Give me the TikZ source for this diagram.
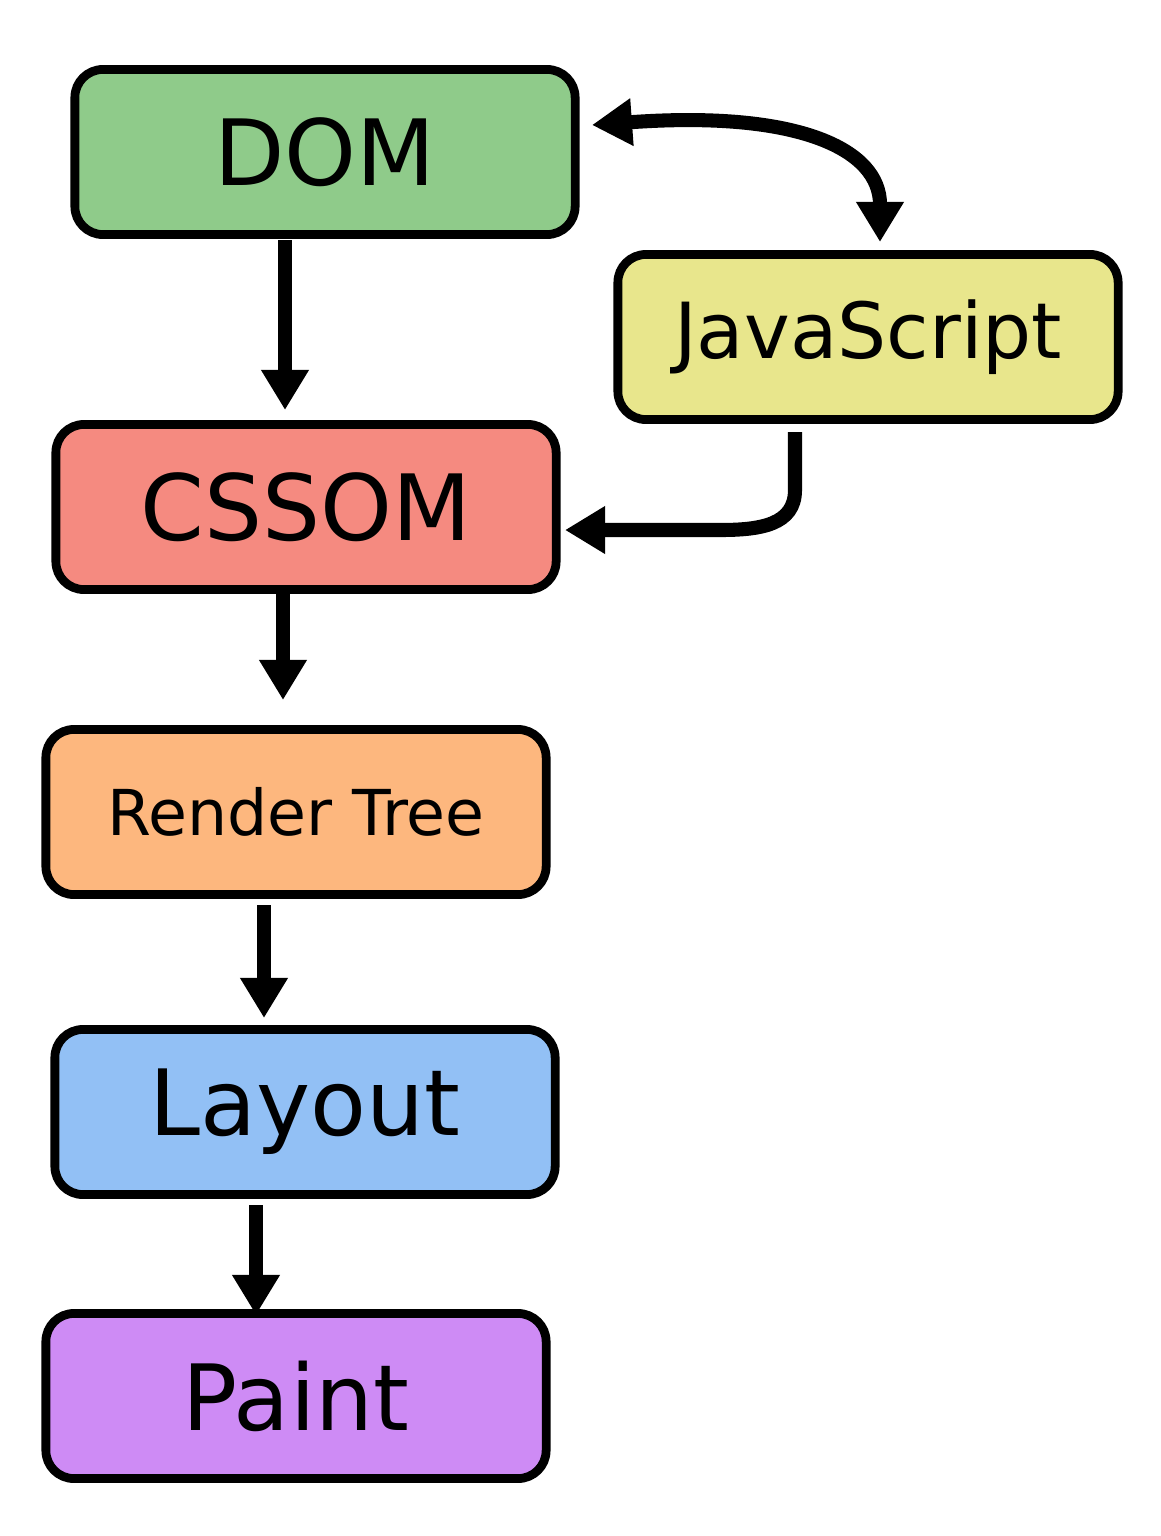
\documentclass[tikz,border=0pt]{standalone}
\usepackage{fontspec}
\setmainfont{DejaVu Sans}
\usetikzlibrary{arrows.meta}
\definecolor{cdom}{HTML}{8FCB8A}
\definecolor{cjs}{HTML}{E8E68C}
\definecolor{ccss}{HTML}{F58A80}
\definecolor{crt}{HTML}{FDB77E}
\definecolor{clay}{HTML}{92C0F5}
\definecolor{cpaint}{HTML}{CE8BF5}
\tikzset{
  box/.style={draw=black, line width=2.5pt, rounded corners=8pt, minimum width=5cm, minimum height=1.65cm, font=\fontsize{26}{30}\selectfont},
  arr/.style={line width=4pt, -{Triangle[length=0.4cm,width=0.45cm]}},
}
\begin{document}
\begin{tikzpicture}[x=0.01cm,y=-0.01cm]
\useasboundingbox (0,0) rectangle (1160,1536);
\node[box, fill=cdom] (dom) at (325,152) {DOM};
\node[box, fill=cjs, font=\fontsize{22}{26}\selectfont] (js) at (868,337) {JavaScript};
\node[box, fill=ccss] (css) at (306,507) {CSSOM};
\node[box, fill=crt, font=\fontsize{18}{22}\selectfont] (rt) at (296,812) {Render Tree};
\node[box, fill=clay] (lay) at (305,1112) {Layout};
\node[box, fill=cpaint] (paint) at (296,1396) {Paint};
\draw[arr] (285,240) -- (285,410);
\draw[arr] (283,592) -- (283,700);
\draw[arr] (264,905) -- (264,1018);
\draw[arr] (256,1205) -- (256,1315);
\draw[line width=4pt, {Triangle[length=0.4cm,width=0.45cm]}-{Triangle[length=0.4cm,width=0.45cm]}] (592,125) .. controls (800,110) and (880,150) .. (880,242);
\draw[arr] (795,432) -- (795,490) .. controls (795,525) and (760,530) .. (720,530) -- (565,530);
\end{tikzpicture}
\end{document}
